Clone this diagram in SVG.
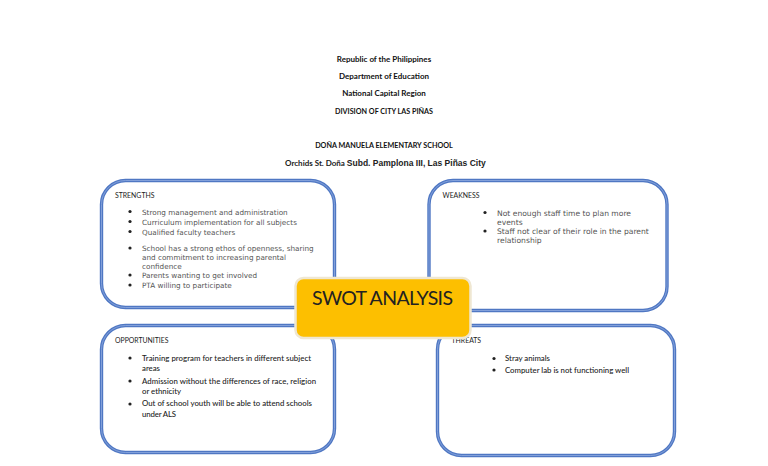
<svg xmlns="http://www.w3.org/2000/svg" width="768" height="466" viewBox="0 0 768 466">
<style>
text{font-family:"Lato","Liberation Sans",Arial,sans-serif;fill:#222}
.h{font-size:8px;font-weight:700;text-anchor:middle;fill:#111}
.u{font-size:7.200px}
.o{fill:#fff;stroke:#4f77c3;stroke-width:3.4}
.i{fill:none;stroke:#8fabdf;stroke-width:.8}
.l{font-size:6.900px;fill:#222}
.s{font-family:"DejaVu Sans",sans-serif;font-size:7.250px;fill:#555}
.w{font-family:"DejaVu Sans",sans-serif;font-size:7.600px;fill:#555}
.c{font-size:7.800px;font-weight:500;fill:#222}
.b{fill:#222}
</style>
<rect width="768" height="466" fill="#fff"/>
<g id="header">
<text class="h" x="384" y="62">Republic of the Philippines</text>
<text class="h" x="384" y="79">Department of Education</text>
<text class="h" x="384" y="96">National Capital Region</text>
<text class="h u" x="384" y="113.500">DIVISION OF CITY LAS PIÑAS</text>
<text class="h u" x="384" y="148">DOÑA MANUELA ELEMENTARY SCHOOL</text>
<text x="285" y="165.500" font-size="8" font-weight="700" fill="#222">Orchids St. Doña <tspan font-family="Liberation Sans" font-size="8.500">Subd. Pamplona III, Las Piñas City</tspan></text>
</g>
<g id="strengths">
<rect class="o" x="101.500" y="180.500" width="233" height="127" rx="24"/>
<rect class="i" x="101.500" y="180.500" width="233" height="127" rx="24"/>
<text class="l" x="115" y="198">STRENGTHS</text>
<circle class="b" cx="130" cy="211.500" r="1.600"/><text class="s" x="142" y="214.500">Strong management and administration</text>
<circle class="b" cx="130" cy="221.500" r="1.600"/><text class="s" x="142" y="224.500">Curriculum implementation for all subjects</text>
<circle class="b" cx="130" cy="231.500" r="1.600"/><text class="s" x="142" y="234.500">Qualified faculty teachers</text>
<circle class="b" cx="130" cy="248" r="1.600"/><text class="s" x="142" y="251">School has a strong ethos of openness, sharing</text>
<text class="s" x="142" y="260">and commitment to increasing parental</text>
<text class="s" x="142" y="269">confidence</text>
<circle class="b" cx="130" cy="275" r="1.600"/><text class="s" x="142" y="278">Parents wanting to get involved</text>
<circle class="b" cx="130" cy="285" r="1.600"/><text class="s" x="142" y="288">PTA willing to participate</text>
</g>
<g id="weakness">
<rect class="o" x="429" y="180.500" width="238" height="130" rx="24"/>
<rect class="i" x="429" y="180.500" width="238" height="130" rx="24"/>
<text class="l" x="442.500" y="198">WEAKNESS</text>
<circle class="b" cx="485" cy="212.500" r="1.600"/><text class="w" x="497" y="215.500">Not enough staff time to plan more</text>
<text class="w" x="497" y="224.500">events</text>
<circle class="b" cx="485" cy="231" r="1.600"/><text class="w" x="497" y="234">Staff not clear of their role in the parent</text>
<text class="w" x="497" y="243">relationship</text>
</g>
<g id="opportunities">
<rect class="o" x="101.500" y="325.500" width="233" height="127" rx="24"/>
<rect class="i" x="101.500" y="325.500" width="233" height="127" rx="24"/>
<text class="l" x="115" y="343">OPPORTUNITIES</text>
<circle class="b" cx="130" cy="358" r="1.600"/><text class="c" x="142" y="360.500" textLength="169">Training program for teachers in different subject</text>
<text class="c" x="142" y="371" textLength="18">areas</text>
<circle class="b" cx="130" cy="381" r="1.600"/><text class="c" x="142" y="383.500" textLength="174">Admission without the differences of race, religion</text>
<text class="c" x="142" y="394" textLength="39">or ethnicity</text>
<circle class="b" cx="130" cy="404" r="1.600"/><text class="c" x="142" y="406" textLength="170">Out of school youth will be able to attend schools</text>
<text class="c" x="142" y="417" textLength="34">under ALS</text>
</g>
<g id="threats">
<rect class="o" x="437.500" y="325.500" width="237" height="130" rx="24"/>
<rect class="i" x="437.500" y="325.500" width="237" height="130" rx="24"/>
<text class="l" x="451.500" y="343">THREATS</text>
<circle class="b" cx="494" cy="358.500" r="1.600"/><text class="c" x="505" y="361" textLength="45">Stray animals</text>
<circle class="b" cx="494" cy="370" r="1.600"/><text class="c" x="505" y="372.500" textLength="124">Computer lab is not functioning well</text>
</g>
<g id="swot">
<rect x="295.500" y="278" width="175" height="60" rx="8" fill="#fdbf00" stroke="#efe7d2" stroke-width="2.500"/>
<text x="312" y="305" font-size="19.500" textLength="141" fill="#1a1a1a">SWOT ANALYSIS</text>
</g>
</svg>
